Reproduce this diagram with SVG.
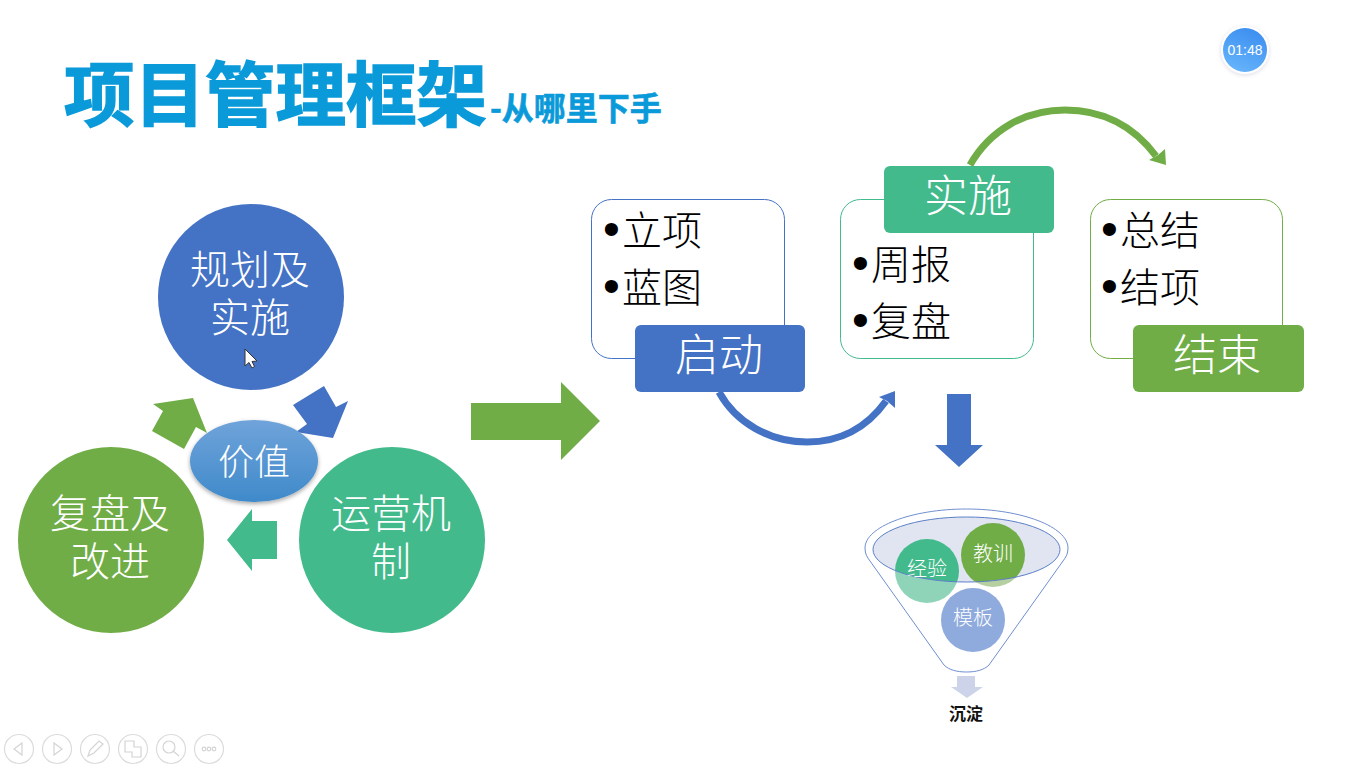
<svg xmlns="http://www.w3.org/2000/svg" width="1366" height="768" viewBox="0 0 1366 768">
<style>
text{font-family:"Noto Sans CJK SC","Liberation Sans",sans-serif;text-anchor:middle}
.w{fill:#fff;font-weight:300}
.b{fill:#000;font-size:40px;text-anchor:start;font-weight:300}
.bu{font-family:"Liberation Sans",sans-serif;font-size:48px;font-weight:400}
.t{fill:#0b9ad9;font-weight:700;text-anchor:start}
.box{fill:#fff;stroke-width:1}
.nav{fill:none;stroke:#dcdcdc;stroke-width:1.2}
.navi{fill:none;stroke:#d4d4d4;stroke-width:1.2}
.cv{fill:none;stroke-width:7}
</style>
<defs>
<linearGradient id="val" x1="0" y1="0" x2="0" y2="1"><stop offset="0" stop-color="#70a3da"/><stop offset="1" stop-color="#3f8aca"/></linearGradient>
<linearGradient id="tm" x1="0.3" y1="1" x2="0.7" y2="0"><stop offset="0" stop-color="#66b4fb"/><stop offset="1" stop-color="#3c8ef0"/></linearGradient>
<filter id="sh" x="-20%" y="-20%" width="140%" height="150%"><feDropShadow dx="0" dy="2" stdDeviation="2" flood-color="#000" flood-opacity="0.35"/></filter>
<filter id="sh2" x="-20%" y="-20%" width="140%" height="140%"><feDropShadow dx="0" dy="1" stdDeviation="2" flood-color="#88a" flood-opacity="0.3"/></filter>
<clipPath id="inner"><ellipse cx="966.500" cy="549.500" rx="93.500" ry="32.500"/></clipPath>
</defs>
<rect width="1366" height="768" fill="#fff"/>
<g id="title">
<text class="t" x="64" y="121" font-size="70.500" stroke="#0b9ad9" stroke-width="1.500">项目管理框架</text>
<text class="t" x="490" y="120" font-size="32" stroke="#0b9ad9" stroke-width="0.600">-从哪里下手</text>
</g>
<g id="timer">
<circle cx="1245" cy="50" r="24" fill="#fff" filter="url(#sh2)"/>
<circle cx="1245" cy="50" r="22" fill="url(#tm)"/>
<text x="1245" y="55" font-size="14" fill="#fff" style="font-family:'Liberation Sans',sans-serif">01:48</text>
</g>
<g id="connectors">
<polygon id="arrow-plan-ops" points="293,405 324,386 336,407 348,401 333,438 296,432 307,424" fill="#4472c4"/>
<polygon id="arrow-ops-review" points="227,540 252,509 252,521 277,521 277,559 252,559 252,571" fill="#43ba8c"/>
<polygon id="arrow-review-plan" points="152,431 163,411 153,404 193,398 207,433 196,427 184,449" fill="#70ad47"/>
<polygon id="arrow-main" points="471,403 561,403 561,382 600,421 561,460 561,440 471,440" fill="#70ad47"/>
<path class="cv" stroke="#4472c4" d="M719,392C736,423 770,442 807,442C842,442 868,426 886,401"/>
<polygon points="895,391 895,408 887,401 879,397" fill="#4472c4"/>
<path class="cv" stroke="#70ad47" d="M970,165C990,130 1025,110 1065,110C1105,110 1135,128 1156,156"/>
<polygon points="1166,165 1149,160 1158,155 1165,149" fill="#70ad47"/>
<polygon id="arrow-down" points="947,394 971,394 971,445 983,445 959,467 935,445 947,445" fill="#4472c4"/>
<polygon id="arrow-small" points="957,676 975,676 975,687 983,687 967,698 951,687 957,687" fill="#cdd4ea"/>
</g>
<g id="node-plan"><circle cx="251" cy="297" r="93" fill="#4472c4"/>
<text class="w" font-size="40"><tspan x="250" y="284">规划及</tspan><tspan x="250" y="332">实施</tspan></text></g>
<g id="node-review"><circle cx="111" cy="540" r="93" fill="#70ad47"/>
<text class="w" font-size="40"><tspan x="110" y="528">复盘及</tspan><tspan x="110" y="576">改进</tspan></text></g>
<g id="node-ops"><circle cx="392" cy="540" r="93" fill="#43ba8c"/>
<text class="w" font-size="40"><tspan x="391" y="528">运营机</tspan><tspan x="391" y="576">制</tspan></text></g>
<g id="node-value"><ellipse cx="254" cy="461" rx="64" ry="41" fill="url(#val)" filter="url(#sh)"/>
<text class="w" x="254" y="475" font-size="36">价值</text></g>
<g id="cursor"><path d="M245,349V366L249,362.500L252,368L254.500,366.500L252,361.500L257,361Z" fill="#fff" stroke="#333" stroke-width="1"/></g>
<g id="node-start">
<rect class="box" x="591.500" y="199.500" width="193" height="159" rx="20" stroke="#4472c4"/>
<text class="b"><tspan class="bu" x="603" y="245">•</tspan><tspan x="622" y="245">立项</tspan><tspan class="bu" x="603" y="302">•</tspan><tspan x="622" y="302">蓝图</tspan></text>
<rect x="635" y="325" width="170" height="67" rx="6" fill="#4472c4"/>
<text class="w" x="719" y="371" font-size="44">启动</text>
</g>
<g id="node-exec">
<rect class="box" x="840.500" y="199.500" width="193" height="159" rx="20" stroke="#43ba8c"/>
<text class="b"><tspan class="bu" x="852" y="279">•</tspan><tspan x="871" y="279">周报</tspan><tspan class="bu" x="852" y="336">•</tspan><tspan x="871" y="336">复盘</tspan></text>
<rect x="884" y="166" width="170" height="67" rx="6" fill="#43ba8c"/>
<text class="w" x="968" y="212" font-size="44">实施</text>
</g>
<g id="node-end">
<rect class="box" x="1090.500" y="199.500" width="192" height="159" rx="20" stroke="#70ad47"/>
<text class="b"><tspan class="bu" x="1101" y="245">•</tspan><tspan x="1120" y="245">总结</tspan><tspan class="bu" x="1101" y="302">•</tspan><tspan x="1120" y="302">结项</tspan></text>
<rect x="1133" y="325" width="171" height="67" rx="6" fill="#70ad47"/>
<text class="w" x="1217" y="371" font-size="44">结束</text>
</g>
<g id="node-funnel">
<path d="M966.500,509C1022,509 1068,527 1068,548C1068,554 1066,557 1063,561L989,665C984,670 976,672 966.500,672C957,672 949,670 944,665L870,561C867,557 865,554 865,548C865,527 911,509 966.500,509Z" fill="#fff" stroke="#6f8fcf" stroke-width="1"/>
<circle cx="927" cy="571" r="32" fill="#8fd4b9"/>
<circle cx="993" cy="555" r="32" fill="#b5cfa0"/>
<ellipse cx="966.500" cy="549.500" rx="93.500" ry="32.500" fill="#e1e5f1"/>
<g clip-path="url(#inner)"><circle cx="927" cy="571" r="32" fill="#43ba8c"/><circle cx="993" cy="555" r="32" fill="#70ad47"/></g>
<ellipse cx="966.500" cy="549.500" rx="93.500" ry="32.500" fill="none" stroke="#5b80c8" stroke-width="1"/>
<circle cx="973" cy="620" r="32" fill="#8faadc"/>
<text class="w" x="927" y="576" font-size="20">经验</text>
<text class="w" x="993" y="561" font-size="20">教训</text>
<text class="w" x="973" y="625" font-size="20">模板</text>
<text x="966" y="720" font-size="17" font-weight="700" fill="#111">沉淀</text>
</g>
<g id="toolbar">
<circle class="nav" cx="19" cy="749" r="14.500"/><path class="navi" d="M22,743V755L14,749Z"/>
<circle class="nav" cx="57" cy="749" r="14.500"/><path class="navi" d="M54,743V755L62,749Z"/>
<circle class="nav" cx="95" cy="749" r="14.500"/><path class="navi" d="M88,756L90,750L99,741L103,744L94,753Z"/>
<circle class="nav" cx="133" cy="749" r="14.500"/><path class="navi" d="M125,741H134V747H141V757H132V752H125Z" fill="#e4e4e4"/>
<circle class="nav" cx="171" cy="749" r="14.500"/><circle class="navi" cx="169" cy="747" r="6"/><path class="navi" d="M173,751L179,756" stroke-width="2"/>
<circle class="nav" cx="209" cy="749" r="14.500"/><circle class="navi" cx="204" cy="749" r="1.800"/><circle class="navi" cx="209" cy="749" r="1.800"/><circle class="navi" cx="214" cy="749" r="1.800"/>
</g>
</svg>
